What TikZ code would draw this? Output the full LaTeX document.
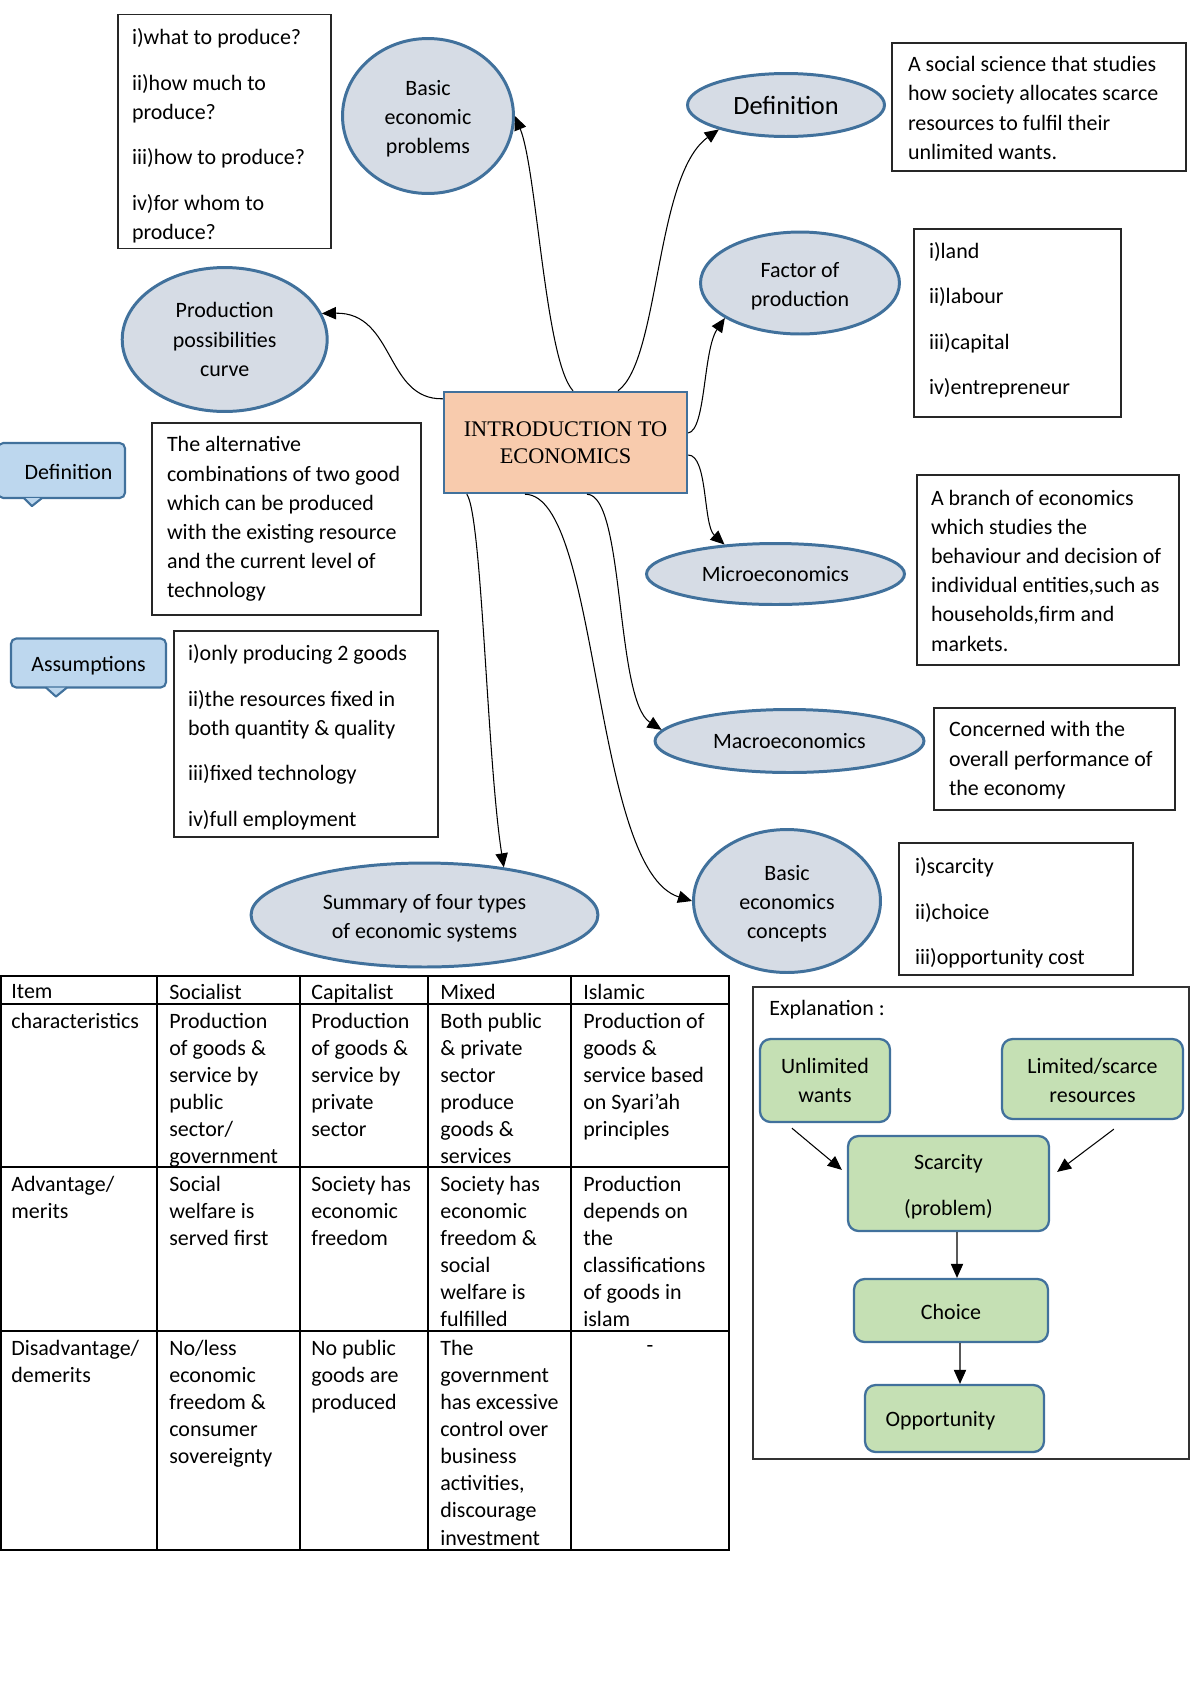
\documentclass[tikz,border=0pt]{standalone}
\usepackage{fontspec}
\setmainfont{Carlito}
\newfontfamily\serifhead{Liberation Serif}
\usetikzlibrary{shapes.geometric, arrows.meta, positioning}
\definecolor{ovalgrey}{RGB}{214,220,229}
\definecolor{edgeblue}{RGB}{65,113,156}
\definecolor{peach}{RGB}{248,203,173}
\definecolor{tagblue}{RGB}{189,215,238}
\definecolor{stepgreen}{RGB}{197,224,180}
\newcommand{\bodysize}{\fontsize{12.5}{16.6}\selectfont}
\newcommand{\cellsize}{\fontsize{12.5}{15.4}\selectfont}
\newcommand{\itemgap}{\\[9.3pt]}
\newcommand{\padtop}[1]{\rule{0pt}{#1}}
\newcommand{\padbot}[1]{\rule[-#1]{0pt}{#1}}
\tikzset{
  topicoval/.style={ellipse, draw=edgeblue, line width=1.7pt, fill=ovalgrey,
    inner sep=0pt, align=center, font=\bodysize},
  notebox/.style={draw=black!85, line width=0.8pt, align=flush left, font=\bodysize,
    inner ysep=0pt},
  titlebox/.style={draw=edgeblue, line width=1.4pt, fill=peach, align=center,
    font=\serifhead\fontsize{12.7}{15.4}\selectfont},
  tagbox/.style={draw=edgeblue, line width=1.2pt, fill=tagblue, rounded corners=3pt,
    inner sep=0pt, font=\bodysize},
  tagnotch/.style={draw=edgeblue, line width=1.2pt, fill=tagblue, line join=round},
  stepbox/.style={draw=edgeblue, line width=1.3pt, fill=stepgreen, rounded corners=6pt,
    align=center, inner sep=0pt, font=\bodysize},
  tabcell/.style={anchor=north west, align=left, inner sep=0pt, font=\cellsize},
  tabline/.style={draw=black, line width=1.3pt},
  framebox/.style={draw=black!80, line width=0.9pt},
  linkarrow/.style={draw=black, line width=0.6pt, -{Triangle[length=8pt,width=7pt]}}
}

\begin{document}
\begin{tikzpicture}[x=0.02cm, y=-0.02cm]
  \useasboundingbox (0,0) rectangle (1200,1698);

  \node[titlebox, minimum width=4.86cm, minimum height=2.02cm] (intro) at (565.5,442.5) {INTRODUCTION TO\\ECONOMICS};

  \node[topicoval, minimum width=3.42cm, minimum height=3.10cm] (bep) at (428,116) {\padtop{11.6pt}Basic\\economic\\problems};
  \node[topicoval, minimum width=3.94cm, minimum height=1.26cm, font=\fontsize{15}{16.6}\selectfont] (defell) at (786,105) {Definition};
  \node[topicoval, minimum width=3.98cm, minimum height=2.04cm] (factorell) at (800,283) {\padtop{11.8pt}Factor of\\production};
  \node[topicoval, minimum width=4.10cm, minimum height=2.88cm] (ppcell) at (224.7,339.5) {Production\\possibilities\\curve};
  \node[topicoval, minimum width=5.16cm, minimum height=1.22cm] (microell) at (775.5,574) {Microeconomics};
  \node[topicoval, minimum width=5.38cm, minimum height=1.26cm] (macroell) at (789.5,741) {Macroeconomics};
  \node[topicoval, minimum width=3.74cm, minimum height=2.86cm] (becell) at (787,901) {\padtop{11.6pt}Basic\\economics\\concepts};
  \node[topicoval, minimum width=6.94cm, minimum height=2.08cm] (sumell) at (424.5,915) {\padtop{12pt}Summary of four types\\of economic systems};

  \node[notebox, text width=3.70cm, inner xsep=0.28cm, minimum height=4.66cm] (probbox) at (224.5,131.5)
    {\padtop{17.2pt}i)what to produce?\itemgap ii)how much to\\produce?\itemgap iii)how to produce?\itemgap iv)for whom to\\produce?\padbot{5pt}};
  \node[notebox, text width=5.24cm, inner xsep=0.32cm, minimum height=2.56cm] (defbox) at (1039,107)
    {\padtop{14.7pt}A social science that studies\\how society allocates scarce\\resources to fulfil their\\unlimited wants.\padbot{5pt}};
  \node[notebox, text width=3.54cm, inner xsep=0.30cm, minimum height=3.76cm] (landbox) at (1017.5,323)
    {\padtop{14.1pt}i)land\itemgap ii)labour\itemgap iii)capital\itemgap iv)entrepreneur\padbot{9.9pt}};
  \node[notebox, text width=4.78cm, inner xsep=0.30cm, minimum height=3.84cm] (ppcbox) at (286.5,519)
    {\padtop{14.1pt}The alternative\\combinations of two good\\which can be produced\\with the existing resource\\and the current level of\\technology\padbot{7.5pt}};
  \node[notebox, text width=4.68cm, inner xsep=0.28cm, minimum height=3.80cm] (microbox) at (1048,570)
    {\padtop{14.2pt}A branch of economics\\which studies the\\behaviour and decision of\\individual entities,such as\\households,firm and\\markets.\padbot{5pt}};
  \node[notebox, text width=4.72cm, inner xsep=0.28cm, minimum height=4.12cm] (assumbox) at (306,734)
    {\padtop{15.9pt}i)only producing 2 goods\itemgap ii)the resources fixed in\\both quantity \& quality\itemgap iii)fixed technology\itemgap iv)full employment\padbot{5pt}};
  \node[notebox, text width=4.22cm, inner xsep=0.30cm, minimum height=2.04cm] (macrobox) at (1054.5,759)
    {\padtop{14.1pt}Concerned with the\\overall performance of\\the economy\padbot{6.1pt}};
  \node[notebox, text width=4.04cm, inner xsep=0.32cm, minimum height=2.64cm] (conceptbox) at (1016,909)
    {\padtop{16.7pt}i)scarcity\itemgap ii)choice\itemgap iii)opportunity cost\padbot{5pt}};

  \node[tagbox, minimum width=2.54cm, minimum height=1.10cm] (defcall) at (61.5,470.5) {\padtop{10pt}\hspace*{8pt}Definition};
  \filldraw[tagnotch] ([shift={(27,-1)}]defcall.south west) -- ([shift={(35,7)}]defcall.south west) -- ([shift={(45,-1)}]defcall.south west);
  \node[tagbox, minimum width=3.10cm, minimum height=0.98cm] (assumcall) at (88.5,663) {\padtop{11.2pt}Assumptions};
  \filldraw[tagnotch] ([shift={(36,-1)}]assumcall.south west) -- ([shift={(46,8)}]assumcall.south west) -- ([shift={(57,-1)}]assumcall.south west);

  \draw[linkarrow] ([shift={(7.5,0)}]intro.north) .. controls (545,360) and (537,170) .. (bep.east);
  \draw[linkarrow] ([shift={(0,8)}]intro.north west) .. controls (385,400) and (395,312) .. (ppcell.15);
  \draw[linkarrow] ([shift={(52.5,0)}]intro.north) .. controls (660,360) and (655,175) .. (defell.200);
  \draw[linkarrow] ([shift={(0,-9.5)}]intro.east) .. controls (706,430) and (703,350) .. (factorell.205);
  \draw[linkarrow] ([shift={(0,12.5)}]intro.east) .. controls (708,455) and (703,525) .. (microell.150);
  \draw[linkarrow] ([shift={(21.5,0)}]intro.south) .. controls (625,495) and (615,700) .. (macroell.175);
  \draw[linkarrow] ([shift={(-40.5,0)}]intro.south) .. controls (600,495) and (592,870) .. (becell.west);
  \draw[linkarrow] ([shift={(24,0)}]intro.south west) .. controls (482,515) and (487,760) .. (sumell.31);

  \draw[tabline] (1,976) rectangle (729,1550);
  \draw[tabline] (1,1004) -- (729,1004);
  \draw[tabline] (1,1167) -- (729,1167);
  \draw[tabline] (1,1331) -- (729,1331);
  \draw[tabline] (157,976) -- (157,1550);
  \draw[tabline] (300,976) -- (300,1550);
  \draw[tabline] (428,976) -- (428,1550);
  \draw[tabline] (571,976) -- (571,1550);
  \node[tabcell] (c00) at (11,984) {Item};
  \node[tabcell] (c01) at (169,984) {Socialist};
  \node[tabcell] (c02) at (311,984) {Capitalist};
  \node[tabcell] (c03) at (440,984) {Mixed};
  \node[tabcell] (c04) at (583,984) {Islamic};
  \node[tabcell] (c10) at (11,1013) {characteristics};
  \node[tabcell] (c11) at (169,1013) {Production\\of goods \&\\service by\\public\\sector/\\government};
  \node[tabcell] (c12) at (311,1013) {Production\\of goods \&\\service by\\private\\sector};
  \node[tabcell] (c13) at (440,1013) {Both public\\\& private\\sector\\produce\\goods \&\\services};
  \node[tabcell] (c14) at (583,1013) {Production of\\goods \&\\service based\\on Syari’ah\\principles};
  \node[tabcell] (c20) at (11,1176) {Advantage/\\merits};
  \node[tabcell] (c21) at (169,1176) {Social\\welfare is\\served first};
  \node[tabcell] (c22) at (311,1176) {Society has\\economic\\freedom};
  \node[tabcell] (c23) at (440,1176) {Society has\\economic\\freedom \&\\social\\welfare is\\fulfilled};
  \node[tabcell] (c24) at (583,1176) {Production\\depends on\\the\\classifications\\of goods in\\islam};
  \node[tabcell] (c30) at (11,1340) {Disadvantage/\\demerits};
  \node[tabcell] (c31) at (169,1340) {No/less\\economic\\freedom \&\\consumer\\sovereignty};
  \node[tabcell] (c32) at (311,1340) {No public\\goods are\\produced};
  \node[tabcell] (c33) at (440,1340) {The\\government\\has excessive\\control over\\business\\activities,\\discourage\\investment};
  \node[tabcell, anchor=north] (c34) at (650,1345) {-};

  \draw[framebox] (753,987) rectangle (1189,1459);
  \node[anchor=west, inner sep=0pt, font=\bodysize] (explabel) at (769,1010) {Explanation :};
  \node[stepbox, minimum width=2.60cm, minimum height=1.66cm] (unlim) at (825,1080.5) {Unlimited\\wants};
  \node[stepbox, minimum width=3.62cm, minimum height=1.60cm] (limited) at (1092.5,1079) {\padtop{10.6pt}Limited/scarce\\resources};
  \node[stepbox, minimum width=4.02cm, minimum height=1.90cm] (scarcity) at (948.5,1183.5) {\padtop{12pt}Scarcity\itemgap(problem)};
  \node[stepbox, minimum width=3.88cm, minimum height=1.26cm] (choice) at (951,1310.5) {\padtop{10pt}Choice};
  \node[stepbox, minimum width=3.58cm, minimum height=1.34cm] (opport) at (954.5,1418.5) {\padtop{10.8pt}Opportunity\hspace*{16pt}};
  \draw[linkarrow] ([shift={(33,5)}]unlim.south west) -- ([shift={(-5,35)}]scarcity.north west);
  \draw[linkarrow] ([shift={(113,9)}]limited.south west) -- ([shift={(7,37)}]scarcity.north east);
  \draw[linkarrow] ([shift={(8.5,0)}]scarcity.south) -- ([shift={(6,0)}]choice.north);
  \draw[linkarrow] ([shift={(9,0)}]choice.south) -- ([shift={(5.5,0)}]opport.north);
\end{tikzpicture}
\end{document}
